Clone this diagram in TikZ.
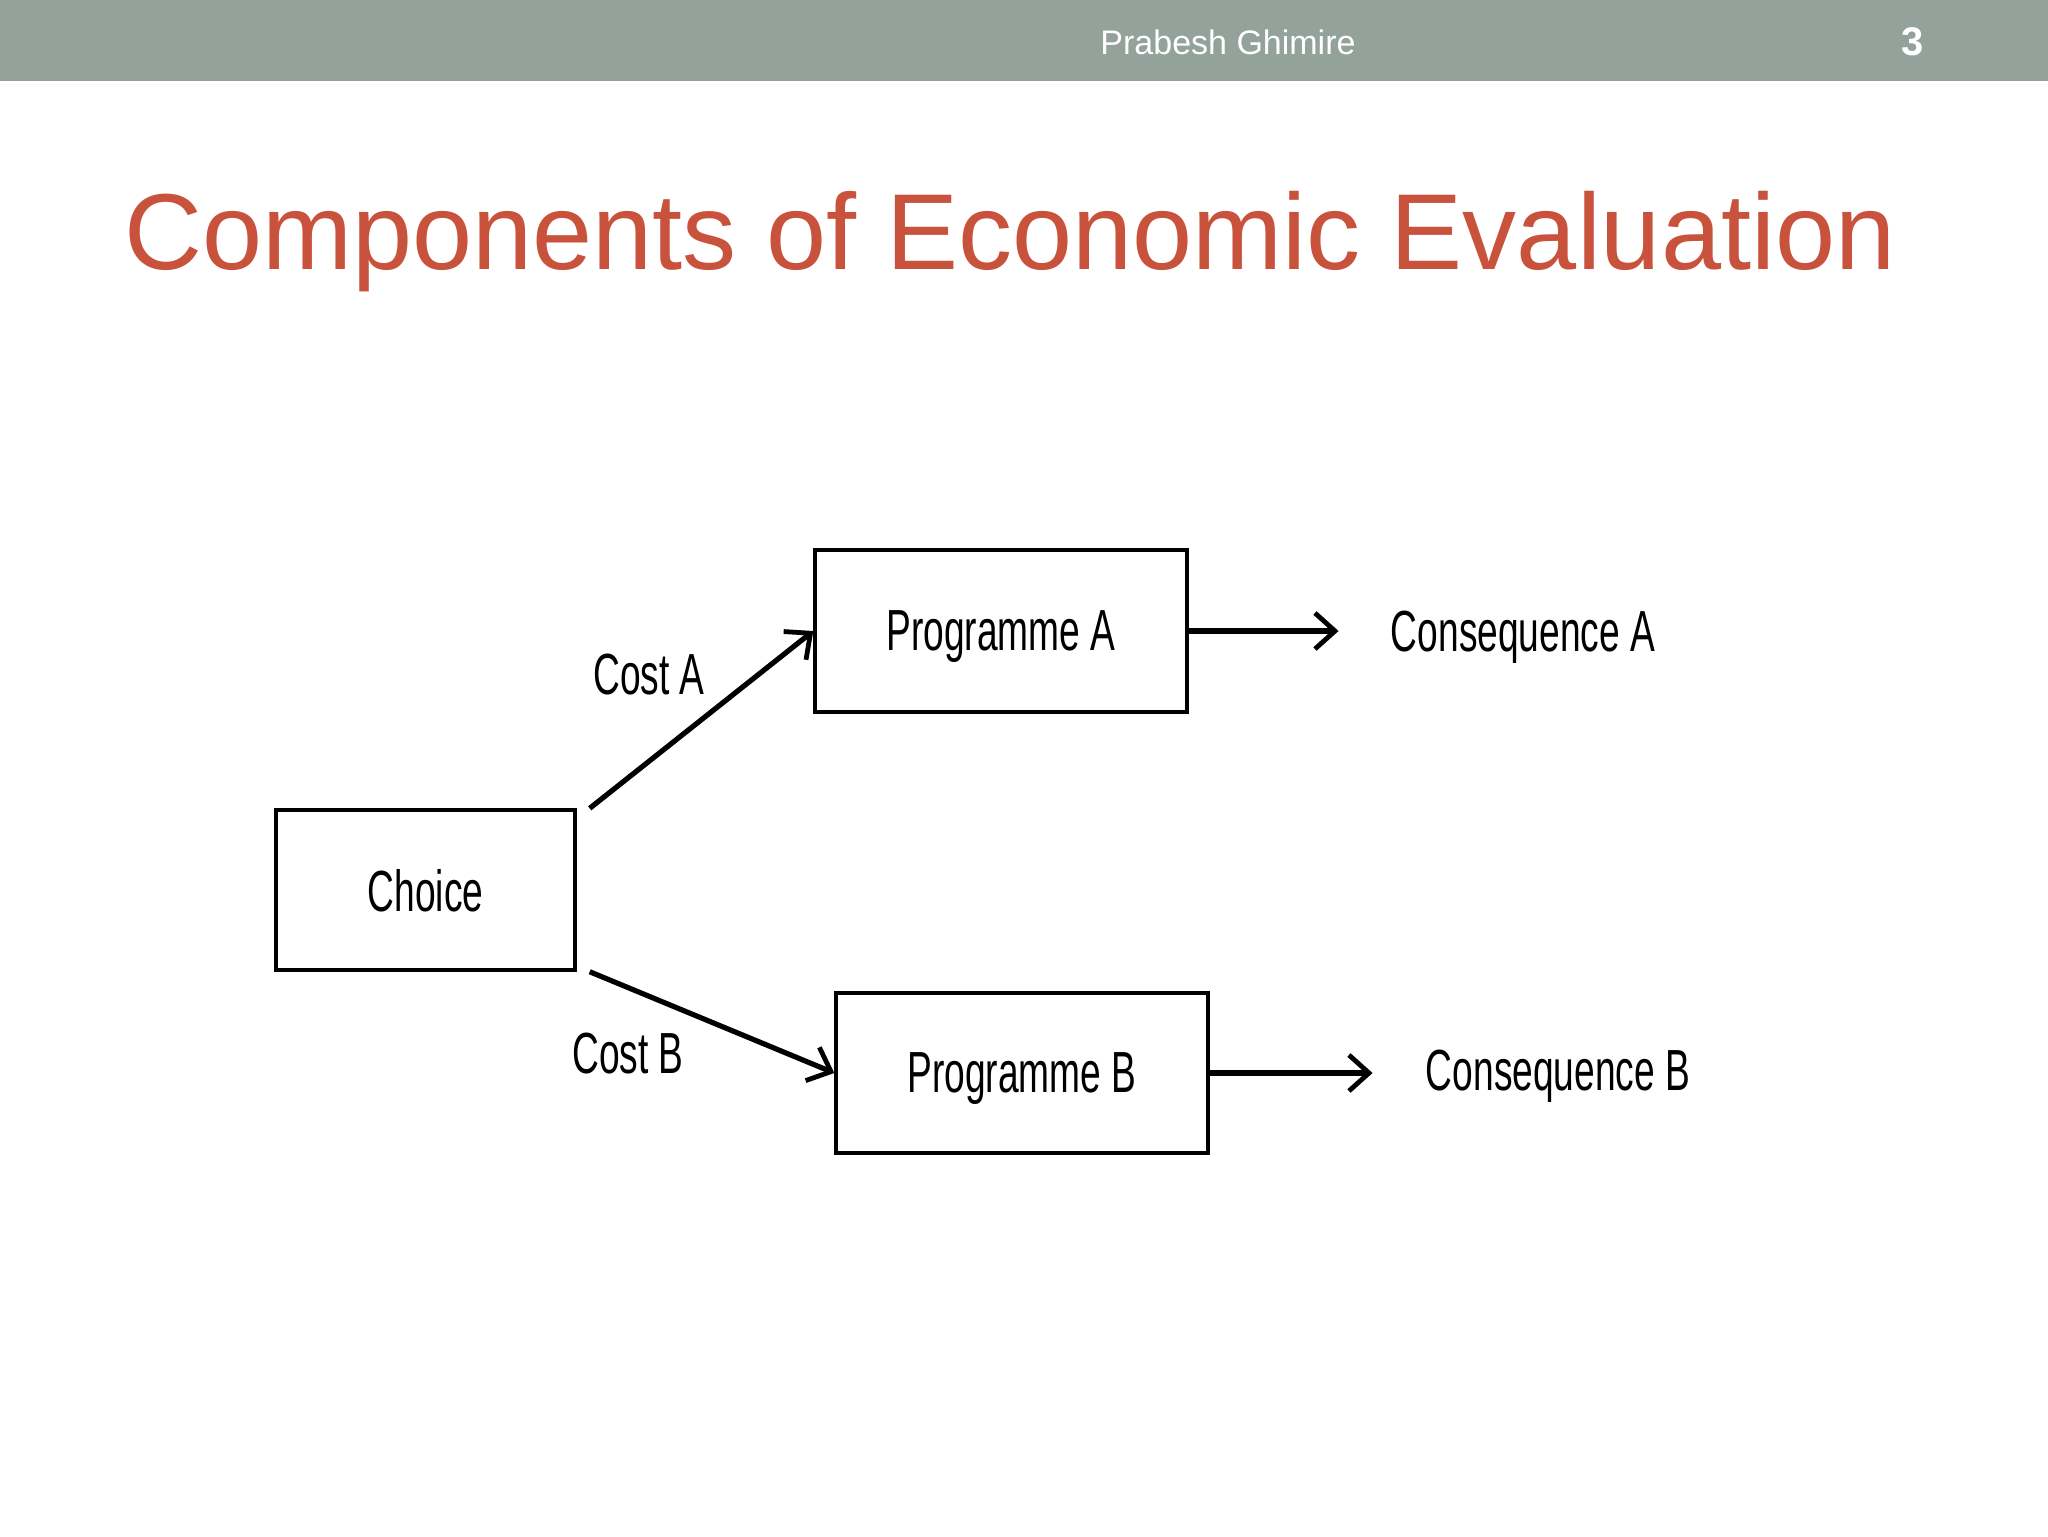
\documentclass[tikz,border=0pt]{standalone}
\usepackage{fontspec}
\setmainfont{Liberation Sans}
\newfontfamily\narrowfont[FakeStretch=0.64]{Liberation Sans}
\usetikzlibrary{arrows.meta,positioning}
\definecolor{headergray}{RGB}{147,162,154}
\definecolor{titlered}{RGB}{200,82,60}

\begin{document}
\begin{tikzpicture}[x=0.5pt,y=-0.5pt,
	box/.style={draw,line width=1.7pt,minimum width=186pt,minimum height=81pt,text depth=0pt,
		font=\narrowfont\fontsize{29}{34}\selectfont},
	plain/.style={inner sep=0pt,text depth=0pt,font=\narrowfont\fontsize{29}{34}\selectfont},
	flow/.style={line width=2.6pt,-{Straight Barb[length=10pt,width=18pt,line width=2.4pt]}}]
		\useasboundingbox (0,0) rectangle (2048,1536);
		\fill[white] (0,0) rectangle (2048,1536);
		% header bar
		\fill[headergray] (0,0) rectangle (2048,81);
		\node[text=white,font=\fontsize{17}{20}\selectfont] (author) at (1228,42) {Prabesh Ghimire};
		\node[text=white,font=\bfseries\fontsize{20}{24}\selectfont] (pagenum) at (1913,42) {3};
		\node[text=titlered,font=\fontsize{54}{60}\selectfont] (title) at (1010,242) {Components of Economic Evaluation};
		
		\node[box,minimum width=149.5pt,minimum height=80pt] (choice) at (425.5,890) {Choice};
		\node[box] (progA) at (1001,631) {Programme A};
		\node[box,minimum height=80pt] (progB) at (1022,1073) {Programme B};
		\node[plain] (consA) at (1523,631) {Consequence A};
		\node[plain] (consB) at (1558,1070) {Consequence B};
		\node[plain] (costA) at (649,674) {Cost A};
		\node[plain] (costB) at (628,1053) {Cost B};
		
		\draw[flow] ([xshift=6.5pt]choice.north east) -- (progA.west);
		\draw[flow] ([xshift=6.5pt]choice.south east) -- (progB.west);
		\draw[flow] (progA.east) -- ([xshift=-26pt]consA.west |- progA.east);
		\draw[flow] (progB.east) -- ([xshift=-26.5pt]consB.west |- progB.east);
		
	\end{tikzpicture}
\end{document}
